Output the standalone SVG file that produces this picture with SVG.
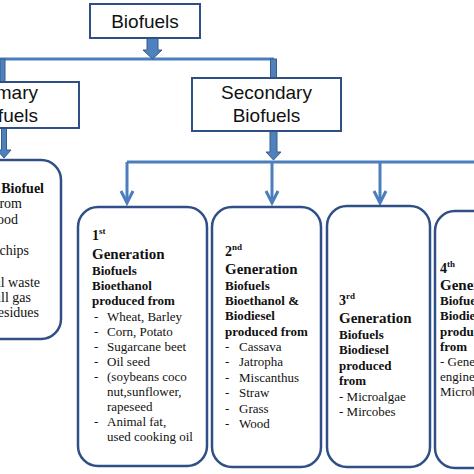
<svg xmlns="http://www.w3.org/2000/svg" width="474" height="474" viewBox="0 0 474 474">
<defs>
<style>
.hdr{fill:#fff;stroke:#2f4f86;stroke-width:2}
.rbox{fill:#fff;stroke:#2f4f86;stroke-width:2.5}
.ht{font-family:"Liberation Sans",Arial,sans-serif;font-size:19px;fill:#111}
.t{font-family:"Liberation Serif","Times New Roman",serif;font-size:13px;fill:#111}
.b{font-family:"Liberation Serif","Times New Roman",serif;font-size:13px;font-weight:bold;fill:#111}
.g{font-family:"Liberation Serif","Times New Roman",serif;font-size:15px;font-weight:bold;fill:#111}
.n{font-family:"Liberation Serif","Times New Roman",serif;font-size:14px;font-weight:bold;fill:#111}
.sup{font-size:9px}
.ln{fill:none;stroke:#4a7ebd;stroke-width:3}
.blk{fill:#4f81bd;stroke:#385d8a;stroke-width:1}
</style>
</defs>
<rect width="474" height="474" fill="#fff"/>

<g id="connectors">
  <polyline class="ln" points="0,59 274,59"/>
  <rect class="blk" x="270.5" y="59" width="6" height="19"/>
  <rect class="blk" x="0" y="59" width="5" height="23"/>
  <path class="blk" d="M147,38 H158 V50 H162 L152.5,59 L143,50 H147 Z"/>
  <path class="blk" d="M270,131 H277 V152 H281 L273.5,160 L266,152 H270 Z"/>
  <path class="blk" d="M1.5,128 H6.5 V150 H11 L4,158 L-3,150 H1.5 Z"/>
  <polyline class="ln" points="127,162 474,162"/>
  <line class="ln" x1="127" y1="162" x2="127" y2="202"/>
  <line class="ln" x1="272" y1="162" x2="272" y2="202"/>
  <line class="ln" x1="380" y1="162" x2="380" y2="202"/>
  <polyline class="ln" points="121,191 127,203 133,191"/>
  <polyline class="ln" points="266,191 272,203 278,191"/>
  <polyline class="ln" points="374,191 380,203 386,191"/>
</g>

<g id="biofuels">
  <rect class="hdr" x="90" y="4" width="110" height="34"/>
  <text class="ht" x="145" y="28" text-anchor="middle">Biofuels</text>
</g>

<g id="primary">
  <rect class="hdr" x="-80" y="82" width="159" height="46"/>
  <text class="ht" x="38" y="99" text-anchor="end">Primary</text>
  <text class="ht" x="38" y="122" text-anchor="end">Biofuels</text>
</g>

<g id="secondary">
  <rect class="hdr" x="192" y="78" width="149" height="53"/>
  <text class="ht" x="266.5" y="99" text-anchor="middle">Secondary</text>
  <text class="ht" x="266.5" y="122" text-anchor="middle">Biofuels</text>
</g>

<g id="primary-list">
  <rect class="rbox" x="-60" y="160" width="121" height="179" rx="20"/>
  <text class="b" x="44" y="193" text-anchor="end" style="font-size:14px">Biofuel</text>
  <text class="t" x="22" y="208" text-anchor="end" style="font-size:14px">from</text>
  <text class="t" x="18" y="224" text-anchor="end" style="font-size:14px">ood</text>
  <text class="t" x="29" y="255" text-anchor="end" style="font-size:14px">chips</text>
  <text class="t" x="40" y="287" text-anchor="end" style="font-size:14px">al waste</text>
  <text class="t" x="31" y="302" text-anchor="end" style="font-size:14px">ill gas</text>
  <text class="t" x="39" y="317" text-anchor="end" style="font-size:14px">residues</text>
</g>

<g id="gen1">
  <rect class="rbox" x="78" y="207" width="129" height="259" rx="20"/>
  <text class="n" x="92" y="240">1<tspan class="sup" dy="-6">st</tspan></text>
  <text class="g" x="92" y="259">Generation</text>
  <text class="b" x="92" y="275">Biofuels</text>
  <text class="b" x="92" y="290">Bioethanol</text>
  <text class="b" x="92" y="305">produced from</text>
  <g class="t">
    <text x="94" y="321">-</text><text x="107" y="321">Wheat, Barley</text>
    <text x="94" y="336">-</text><text x="107" y="336">Corn, Potato</text>
    <text x="94" y="351">-</text><text x="107" y="351">Sugarcane beet</text>
    <text x="94" y="366">-</text><text x="107" y="366">Oil seed</text>
    <text x="94" y="381">-</text><text x="107" y="381">(soybeans coco</text>
    <text x="107" y="396">nut,sunflower,</text>
    <text x="107" y="411">rapeseed</text>
    <text x="94" y="426">-</text><text x="107" y="426">Animal fat,</text>
    <text x="107" y="441">used cooking oil</text>
  </g>
</g>

<g id="gen2">
  <rect class="rbox" x="212" y="207" width="109" height="260" rx="20"/>
  <text class="n" x="225" y="256">2<tspan class="sup" dy="-6">nd</tspan></text>
  <text class="g" x="225" y="274">Generation</text>
  <text class="b" x="225" y="290">Biofuels</text>
  <text class="b" x="225" y="305">Bioethanol &amp;</text>
  <text class="b" x="225" y="320">Biodiesel</text>
  <text class="b" x="225" y="336">produced from</text>
  <g class="t">
    <text x="225" y="351">-</text><text x="239" y="351">Cassava</text>
    <text x="225" y="366">-</text><text x="239" y="366">Jatropha</text>
    <text x="225" y="382">-</text><text x="239" y="382">Miscanthus</text>
    <text x="225" y="397">-</text><text x="239" y="397">Straw</text>
    <text x="225" y="413">-</text><text x="239" y="413">Grass</text>
    <text x="225" y="428">-</text><text x="239" y="428">Wood</text>
  </g>
</g>

<g id="gen3">
  <rect class="rbox" x="327" y="206" width="103" height="261" rx="20"/>
  <text class="n" x="339" y="305">3<tspan class="sup" dy="-6">rd</tspan></text>
  <text class="g" x="339" y="323">Generation</text>
  <text class="b" x="339" y="339">Biofuels</text>
  <text class="b" x="339" y="354">Biodiesel</text>
  <text class="b" x="339" y="370">produced</text>
  <text class="b" x="339" y="385">from</text>
  <text class="t" x="339" y="401">- Microalgae</text>
  <text class="t" x="339" y="416">- Mircobes</text>
</g>

<g id="gen4">
  <rect class="rbox" x="435" y="211" width="80" height="257" rx="20"/>
  <text class="n" x="440" y="273">4<tspan class="sup" dy="-6">th</tspan></text>
  <text class="g" x="440" y="290">Generation</text>
  <text class="b" x="440" y="305">Biofuels</text>
  <text class="b" x="440" y="320">Biodiesel</text>
  <text class="b" x="440" y="336">produced</text>
  <text class="b" x="440" y="351">from</text>
  <text class="t" x="440" y="366">- Genetically</text>
  <text class="t" x="440" y="381">engineered</text>
  <text class="t" x="440" y="396">Microbes</text>
</g>
</svg>
